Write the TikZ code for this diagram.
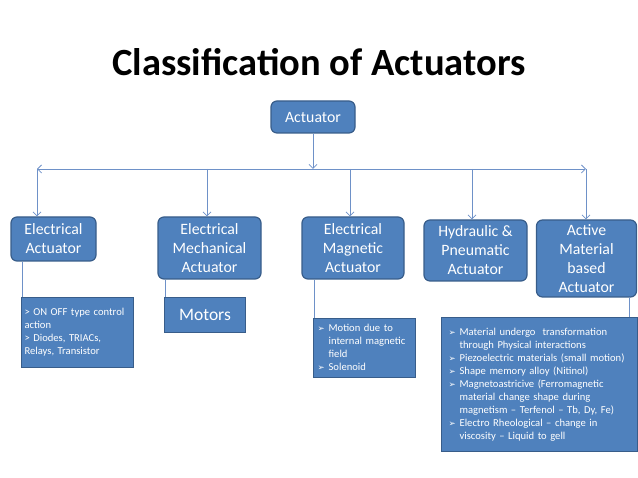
\documentclass[tikz,border=0pt]{standalone}
\usepackage{fontspec}
\setmainfont{Carlito}
\newfontfamily\dingfont{DejaVu Sans}
\usetikzlibrary{positioning,arrows.meta}

\definecolor{boxblue}{RGB}{79,129,189}
\definecolor{boxedge}{RGB}{56,93,138}
\definecolor{linkblue}{RGB}{110,145,200}

\newcommand{\pointer}{{\dingfont\fontsize{8.5}{13}\selectfont\char"27A2}}

\begin{document}
\begin{tikzpicture}[x=1pt,y=1pt,
  >={Straight Barb[length=4pt,width=8pt]},
  kind/.style={draw=boxedge, line width=1.2pt, fill=boxblue, rounded corners=6pt,
    text=white, align=center, font=\fontsize{15.8}{19}\selectfont, inner sep=0pt},
  note/.style={draw=boxedge, line width=1pt, fill=boxblue, text=white,
    anchor=north west, inner sep=0pt, font=\fontsize{10.6}{13}\selectfont},
  link/.style={draw=linkblue, line width=0.8pt}
  ]
  \useasboundingbox (0,0) rectangle (638,478);

  % title
  \node (title) at (319,416) {\fontsize{38.5}{44}\selectfont\bfseries Classification of Actuators};

  % root and bus
  \node[kind, minimum width=84, minimum height=32] (act) at (313,361) {Actuator};
  \coordinate (busl) at (37,309);
  \coordinate (busr) at (586,309);
  \draw[link, <->] (busl) -- (busr);
  \draw[link, ->] (act.south) -- (act.south |- busl);

  % kinds of actuator
  \node[kind, minimum width=85, minimum height=44] (elec) at (53.5,239) {Electrical\\Actuator};
  \node[kind, minimum width=103, minimum height=62] (mech) at (209.5,230) {Electrical\\Mechanical\\Actuator};
  \node[kind, minimum width=102, minimum height=62] (mag) at (353,230) {Electrical\\Magnetic\\Actuator};
  \node[kind, minimum width=103, minimum height=61] (hyd) at (475.5,227.5) {Hydraulic \&\\Pneumatic\\Actuator};
  \node[kind, minimum width=100, minimum height=77] (smart) at (586.5,219.5) {Active\\Material\\based\\Actuator};

  \draw[link, ->] (busl) -- (busl |- elec.north);
  \draw[link, ->] (207,309) -- (207,0 |- mech.north);
  \draw[link, ->] (350,309) -- (350,0 |- mag.north);
  \draw[link, ->] (472,309) -- (472,0 |- hyd.north);
  \draw[link, ->] (busr) -- (busr |- smart.north);

  % details
  \node[note, text width=106, inner xsep=3pt, minimum height=70, align=left] (elecnote) at (21,181)
    {> ON OFF type control\\
      action\\
      > Diodes, TRIACs,\\
      Relays, Transistor};
  \node[note, minimum width=81, minimum height=35, font=\fontsize{17.5}{19}\selectfont] (motors) at (164,181) {Motors};
  \node[note, text width=100, inner xsep=1pt, minimum height=59, align=left] (magnote) at (313,160)
    {\begin{tabular}[t]{@{\hspace{3pt}}l@{\hspace{4pt}}l@{}}
      \pointer & Motion due to\\
      & internal magnetic\\
      & field\\
      \pointer & Solenoid
    \end{tabular}};
  \node[note, text width=194, inner xsep=1pt, minimum height=134, align=left] (smartnote) at (441,161)
    {\begin{tabular}[t]{@{\hspace{6pt}}l@{\hspace{4pt}}l@{}}
      \pointer & Material undergo\ \ transformation\\
      & through Physical interactions\\
      \pointer & Piezoelectric materials (small motion)\\
      \pointer & Shape memory alloy (Nitinol)\\
      \pointer & Magnetoastricive (Ferromagnetic\\
      & material change shape during\\
      & magnetism -- Terfenol -- Tb, Dy, Fe)\\
      \pointer & Electro Rheological -- change in\\
      & viscosity -- Liquid to gell
    \end{tabular}};

  \draw[link] ([xshift=1pt]elecnote.north west) -- ([xshift=1pt]elecnote.north west |- elec.south);
  \draw[link] ([xshift=1pt]motors.north west) -- ([xshift=1pt]motors.north west |- mech.south);
  \draw[link] ([xshift=1pt]magnote.north west) -- ([xshift=1pt]magnote.north west |- mag.south);
  \draw[link] ([xshift=-9pt]smartnote.north east) -- ([xshift=-9pt]smartnote.north east |- smart.south);
\end{tikzpicture}
\end{document}
